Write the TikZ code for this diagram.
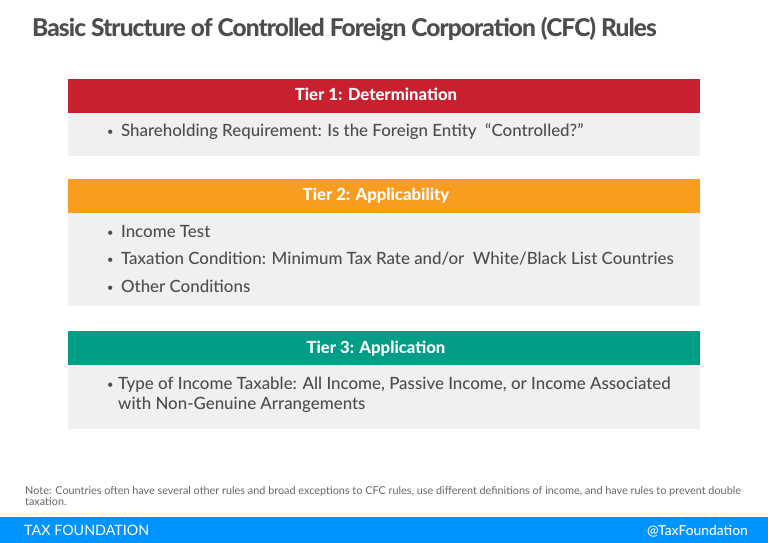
\documentclass[tikz,border=0pt]{standalone}
\usepackage{fontspec}
\setmainfont{Lato}
\newfontfamily\latomedium{Lato Medium}
\newfontfamily\latoheavy{Lato Heavy}
\usetikzlibrary{positioning}
\definecolor{tierred}{HTML}{C8202F}
\definecolor{tierorange}{HTML}{F99D21}
\definecolor{tiergreen}{HTML}{009E87}
\definecolor{bodygrey}{HTML}{F0F0F0}
\definecolor{textgrey}{HTML}{4D4D4D}
\definecolor{notegrey}{HTML}{666666}
\definecolor{footblue}{HTML}{0094FF}
\newcommand{\dotmark}{{\fontsize{11}{11}\selectfont\raisebox{1pt}{•}}}
\tikzset{
  header/.style={fill=#1, minimum width=632pt, minimum height=33.5pt, inner sep=0pt},
  headtext/.style={anchor=base, inner sep=0pt, text=white, font=\fontsize{16.7}{20}\latoheavy},
  panel/.style={fill=bodygrey, minimum width=632pt, inner sep=0pt},
  item/.style={anchor=base west, inner sep=0pt, text=textgrey, font=\fontsize{16.9}{20}\latomedium},
  note/.style={anchor=base west, inner sep=0pt, text=notegrey, font=\fontsize{10.85}{13}\selectfont},
}
\begin{document}
\begin{tikzpicture}[x=1pt, y=-1pt]
    \useasboundingbox (0,0) rectangle (768,543);

    \node[anchor=base west, inner sep=0pt, text=textgrey, font=\fontsize{24.5}{28}\latoheavy] (title) at (32,37) {\addfontfeature{LetterSpace=-3.8}Basic Structure of Controlled Foreign Corporation (CFC) Rules};

    % tier 1
    \node[header=tierred, anchor=north west] (tierA) at (68,79) {};
    \node[headtext] (labelA) at (376,100) {Tier 1: Determination};
    \node[panel, minimum height=43pt, below=0pt of tierA] (panelA) {};
    \node[item] (itemA) at (107,136) {\dotmark\hspace{7.5pt}Shareholding Requirement: Is the Foreign Entity \ “Controlled?”};

    % tier 2
    \node[header=tierorange, anchor=north west] (tierB) at (68,179) {};
    \node[headtext] (labelB) at (376,200) {Tier 2: Applicability};
    \node[panel, minimum height=93pt, below=0pt of tierB] (panelB) {};
    \node[item] (itemB) at (107,237) {\dotmark\hspace{7.5pt}Income Test};
    \node[item] (itemC) at (107,264.5) {\dotmark\hspace{7.5pt}Taxation Condition: Minimum Tax Rate and/or \ White/Black List Countries};
    \node[item] (itemD) at (107,292) {\dotmark\hspace{7.5pt}Other Conditions};

    % tier 3
    \node[header=tiergreen, anchor=north west] (tierC) at (68,331) {};
    \node[headtext] (labelC) at (376,353) {Tier 3: Application};
    \node[panel, minimum height=64pt, below=0pt of tierC] (panelC) {};
    \node[item] (itemE) at (107,389.5) {\dotmark\hspace{4.5pt}Type of Income Taxable: All Income, Passive Income, or Income Associated};
    \node[item] (itemF) at (118,409.5) {with Non-Genuine Arrangements};

    % note and footer
    \node[note] (noteA) at (25,494) {Note: Countries often have several other rules and broad exceptions to CFC rules, use different definitions of income, and have rules to prevent double};
    \node[note] (noteB) at (25,505) {taxation.};
    \fill[footblue] (0,517) rectangle (768,543);
    \node[anchor=base west, inner sep=0pt, text=white, font=\fontsize{14.3}{18}\selectfont] (brand) at (24,535) {TAX FOUNDATION};
    \node[anchor=base east, inner sep=0pt, text=white, font=\fontsize{13.8}{18}\latomedium] (handle) at (748,535) {@TaxFoundation};
\end{tikzpicture}
\end{document}
